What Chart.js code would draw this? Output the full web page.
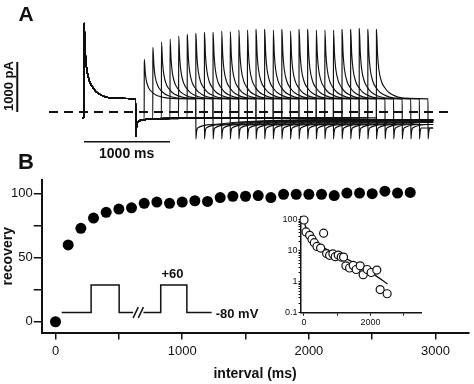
<!DOCTYPE html>
<html><head><meta charset="utf-8">
<script src="https://cdn.jsdelivr.net/npm/chart.js@4.4.1/dist/chart.umd.min.js"></script>
<style>
html,body{margin:0;padding:0;background:#fff;}
body{width:474px;height:384px;position:relative;overflow:hidden;font-family:"Liberation Sans",Arial,Helvetica,sans-serif;color:#111;}
canvas{position:absolute;}
.lbl{position:absolute;font-weight:bold;white-space:nowrap;line-height:1;transform:translate(-50%,-50%);}
</style></head><body>
<canvas id="cA" width="474" height="150" style="left:0;top:0"></canvas>
<canvas id="cB" width="474" height="214" style="left:0;top:170px"></canvas>
<canvas id="cP" width="220" height="70" style="left:40px;top:260px"></canvas>
<canvas id="cI" width="170" height="125" style="left:262px;top:205px"></canvas>
<div class="lbl" style="left:26px;top:12.5px;font-size:21px;">A</div>
<div class="lbl" style="left:26px;top:162px;font-size:22px;">B</div>
<div class="lbl" style="left:7.5px;top:86px;font-size:13px;transform:translate(-50%,-50%) rotate(-90deg);">1000 pA</div>
<div class="lbl" style="left:126.7px;top:152.5px;font-size:14px;">1000 ms</div>
<div class="lbl" style="left:172.5px;top:272.5px;font-size:13px;">+60</div>
<div class="lbl" style="left:237px;top:312.5px;font-size:13px;">-80 mV</div>
<script>
// ---------- Panel A: current traces (pA vs ms) ----------
const sweepIntervals = [100,200,300,400,500,600,700,800,900,1000,1100,1200,1300,1400,1500,1600,1700,1800,1900,2000,2100,2200,2300,2400,2500,2600,2700,2800];
const testPeaks = [1053,1293,1400,1460,1520,1553,1573,1593,1593,1620,1607,1640,1640,1653,1653,1640,1653,1620,1653,1653,1640,1640,1640,1653,1653,1673,1653,1653];
const condPeak = 1773;
const plateauCurrent = 262;
const holdingCurrent = -120;
const pulseDuration = 600;
const sweepEnd = 4060;
// decay of the outward current after pulse onset (ms, fraction of peak above plateau)
const decayTimes = [0, 12, 27, 58, 97, 136, 175, 252, 369, 599];
const decayFraction = [1, 0.65, 0.43, 0.25, 0.16, 0.10, 0.066, 0.026, 0.008, 0];
// tail currents after repolarisation (ms after pulse end, pA)
const condTailTimes = [0, 10, 27, 80, 160, 500, 1200, 2800];
const condTailCurrent = [-490, -300, -195, -160, -140, -125, -118, -112];
const testTailTimes = [0, 8, 20, 200, 500, 1200, 2800];
const testTailCurrent = [-540, -400, -320, -250, -200, -160, -130];
// scale bars
const scaleBarTime = 1000, scaleBarCurrent = 1000;

// ---------- Panel B: recovery vs interval ----------
const intervalMs = [0,100,200,300,400,500,600,700,800,900,1000,1100,1200,1300,1400,1500,1600,1700,1800,1900,2000,2100,2200,2300,2400,2500,2600,2700,2800];
const recovery = [0,60,73,81,85.5,88,89,92.5,93.5,92.5,93.5,94.5,94,97,98,98,98.5,97,99.5,99.5,99.5,99.5,98.5,100.5,100.5,100,102,100.5,101];
const xTickValues = [0,500,1000,1500,2000,2500,3000];
const yTickValues = [0,25,50,75,100];

// ---------- Protocol schematic (ms, mV) ----------
const protoTimesA = [0,630,630,1230,1230,1530];
const protoTimesB = [1750,2120,2120,2680,2680,3210];
const protoVolts = [-80,-80,60,60,-80,-80];

// ---------- Inset (log) ----------
const insetX = [0,60,170,240,310,390,500,590,680,770,870,940,1030,1120,1190,1260,1370,1480,1570,1690,1780,1900,2020,2190,2290,2500];
const insetY = [100,41,32,24,18.5,14,12.3,37.5,8.2,7.2,8,6.5,7.3,6.3,6.3,3.3,2.8,3.4,2.5,3.3,1.7,2.5,2.0,2.4,0.56,0.41];
const fitX = [0,30,130,280,480,780,1080,1580,2080,2510];
const fitY = [100,70,38,23,15,10,7.2,3.7,1.8,0.85];
const insetXTicks = [0,1000,2000,3000];
const insetYTicks = [0.1,0.2,0.3,0.4,0.5,0.6,0.7,0.8,0.9,1,2,3,4,5,6,7,8,9,10,20,30,40,50,60,70,80,90,100];

const FAM = '"Liberation Sans", Arial, Helvetica, sans-serif';
const INK = '#111';

function addPulse(pts, t0, peak) {
  decayTimes.forEach((dt, i) => pts.push({x: t0 + 1 + dt, y: plateauCurrent + decayFraction[i] * (peak - plateauCurrent)}));
}
function addTail(pts, t0, times, vals, tEnd) {
  let last = vals[0];
  times.forEach((dt, i) => { if (t0 + 1 + dt < tEnd) { pts.push({x: t0 + 1 + dt, y: vals[i]}); last = vals[i]; } });
  pts.push({x: tEnd, y: last});
}
const sweepSets = sweepIntervals.map((iv, k) => {
  const pts = [{x: -15, y: holdingCurrent}, {x: 0, y: holdingCurrent}];
  addPulse(pts, 0, condPeak);
  const tStart = pulseDuration + iv;
  addTail(pts, pulseDuration, condTailTimes, condTailCurrent, tStart);
  addPulse(pts, tStart, testPeaks[k]);
  addTail(pts, tStart + pulseDuration, testTailTimes, testTailCurrent, sweepEnd);
  return {data: pts, showLine: true, pointRadius: 0, borderColor: INK, borderWidth: 1.15, cubicInterpolationMode: 'monotone'};
});

new Chart(document.getElementById('cA'), {
  type: 'scatter',
  data: {datasets: [
    {data: [{x: -407, y: 0}, {x: 4279, y: 0}], showLine: true, pointRadius: 0, borderColor: INK, borderWidth: 2, borderDash: [9, 6]},
    {data: [{x: -776, y: 0}, {x: -776, y: scaleBarCurrent}], showLine: true, pointRadius: 0, borderColor: INK, borderWidth: 2},
    {data: [{x: 0, y: -594}, {x: scaleBarTime, y: -594}], showLine: true, pointRadius: 0, borderColor: INK, borderWidth: 1.5},
    ...sweepSets
  ]},
  options: {
    responsive: false, animation: false, events: [],
    layout: {padding: 0},
    plugins: {legend: {display: false}, tooltip: {enabled: false}},
    scales: {
      x: {type: 'linear', display: false, min: -976.7, max: 4535},
      y: {type: 'linear', display: false, min: -760, max: 2240}
    }
  }
});

new Chart(document.getElementById('cB'), {
  type: 'scatter',
  data: {datasets: [{data: intervalMs.map((x, i) => ({x, y: recovery[i]})), pointRadius: 5.5, pointBackgroundColor: '#000', pointBorderColor: '#000', pointBorderWidth: 0, clip: false}]},
  options: {
    responsive: false, animation: false, events: [],
    layout: {padding: {top: 10, right: 0, left: 0, bottom: 0}},
    plugins: {legend: {display: false}, tooltip: {enabled: false}},
    scales: {
      x: {
        type: 'linear', min: -109, max: 3260,
        afterBuildTicks: s => { s.ticks = xTickValues.map(v => ({value: v})); },
        afterFit: s => { s.height = 51.5; },
        ticks: {callback: v => (v % 1000 === 0 ? String(v) : ''), font: {size: 13, family: FAM}, color: INK, padding: 4, maxRotation: 0, autoSkip: false},
        grid: {drawOnChartArea: false, tickLength: 7, color: INK, lineWidth: 1.5},
        border: {color: INK, width: 2},
        title: {display: true, text: 'interval (ms)', font: {size: 14, weight: 'bold', family: FAM}, color: INK, padding: {top: 0, bottom: 1}}
      },
      y: {
        type: 'linear', min: -8.4, max: 110.7,
        afterBuildTicks: s => { s.ticks = yTickValues.map(v => ({value: v})); },
        afterFit: s => { s.width = 41.7; },
        ticks: {callback: v => (v % 50 === 0 ? String(v) : ''), font: {size: 13, family: FAM}, color: INK, padding: 1, autoSkip: false},
        grid: {drawOnChartArea: false, tickLength: 8, color: INK, lineWidth: 1.5},
        border: {color: INK, width: 2},
        title: {display: true, text: 'recovery', font: {size: 14, weight: 'bold', family: FAM}, color: INK, padding: {top: 0, bottom: 0}}
      }
    }
  }
});

new Chart(document.getElementById('cP'), {
  type: 'scatter',
  data: {datasets: [
    {data: protoTimesA.map((t, i) => ({x: t, y: protoVolts[i]})), showLine: true, pointRadius: 0, borderColor: INK, borderWidth: 1.5},
    {data: protoTimesB.map((t, i) => ({x: t, y: protoVolts[i]})), showLine: true, pointRadius: 0, borderColor: INK, borderWidth: 1.5},
    {data: [{x: 1530, y: -107}, {x: 1640, y: -53}], showLine: true, pointRadius: 0, borderColor: INK, borderWidth: 1.5},
    {data: [{x: 1640, y: -107}, {x: 1750, y: -53}], showLine: true, pointRadius: 0, borderColor: INK, borderWidth: 1.5}
  ]},
  options: {
    responsive: false, animation: false, events: [],
    layout: {padding: 0},
    plugins: {legend: {display: false}, tooltip: {enabled: false}},
    scales: {
      x: {type: 'linear', display: false, min: -464.7, max: 4246},
      y: {type: 'linear', display: false, min: -169.1, max: 187.3}
    }
  }
});

new Chart(document.getElementById('cI'), {
  type: 'scatter',
  data: {datasets: [
    {data: insetX.map((x, i) => ({x, y: insetY[i]})), pointRadius: 4, pointBackgroundColor: '#fff', pointBorderColor: INK, pointBorderWidth: 1.2, clip: false},
    {data: fitX.map((x, i) => ({x, y: fitY[i]})), showLine: true, pointRadius: 0, borderColor: INK, borderWidth: 1.3, cubicInterpolationMode: 'monotone'}
  ]},
  options: {
    responsive: false, animation: false, events: [],
    layout: {padding: {top: 12, right: 11, left: 0, bottom: 0}},
    plugins: {legend: {display: false}, tooltip: {enabled: false}},
    scales: {
      x: {
        type: 'linear', min: -90, max: 3519,
        afterBuildTicks: s => { s.ticks = insetXTicks.map(v => ({value: v})); },
        afterFit: s => { s.height = 17.3; },
        ticks: {callback: v => (v % 2000 === 0 ? String(v) : ''), font: {size: 9, family: FAM}, color: INK, padding: 1, maxRotation: 0, autoSkip: false},
        grid: {drawOnChartArea: false, tickLength: 3, color: INK, lineWidth: 1},
        border: {color: INK, width: 1.5}
      },
      y: {
        type: 'logarithmic', min: 0.1, max: 125,
        afterBuildTicks: s => { s.ticks = insetYTicks.map(v => ({value: v})); },
        afterFit: s => { s.width = 39; },
        ticks: {callback: v => ([0.1, 1, 10, 100].includes(v) ? String(v) : ''), font: {size: 9, family: FAM}, color: INK, padding: 1, autoSkip: false},
        grid: {drawOnChartArea: false, tickLength: 2.5, color: INK, lineWidth: 1},
        border: {color: INK, width: 1.5}
      }
    }
  }
});
</script>
</body></html>
